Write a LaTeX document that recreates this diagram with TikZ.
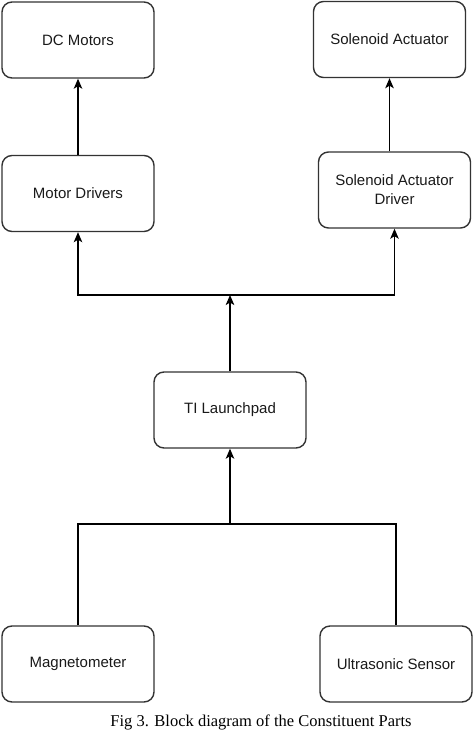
\documentclass[tikz,border=0pt]{standalone}
\usepackage{fontspec}
\setmainfont{Liberation Serif}
\newfontfamily\boxfont{Liberation Sans}
\usetikzlibrary{arrows.meta}
\begin{document}
\begin{tikzpicture}[x=1pt,y=-1pt,
  block/.style={draw=black!80,line width=1.4pt,rounded corners=10pt,minimum width=152pt,minimum height=76pt,align=center,font=\boxfont\fontsize{15}{19}\selectfont,text=black!90},
  link/.style={line width=1.3pt,-{Stealth[length=10pt,width=8.5pt,inset=2.5pt]}}]
  \useasboundingbox (0,0) rectangle (474,730);
  \node[block] (dc) at (78,40) {DC Motors};
  \node[block] (md) at (78,193.5) {Motor Drivers};
  \node[block] (sa) at (389.5,39.5) {Solenoid Actuator};
  \node[block] (sad) at (394.5,190) {Solenoid Actuator\\Driver};
  \node[block] (ti) at (230,410) {TI Launchpad};
  \node[block] (mag) at (78,664) {Magnetometer};
  \node[block] (us) at (396,664) {Ultrasonic Sensor};
  \coordinate (split) at (230,295);
  \coordinate (join) at (230,524);
  \draw[link] (md) -- (dc);
  \draw[link] (sad.north -| sa.south) -- (sa.south);
  \draw[link] (ti) -- (split);
  \draw[link] (split) -| (md);
  \draw[link] (split) -| (sad);
  \draw[line width=1.3pt] (mag) |- (join) -| (us);
  \draw[link] (join) -- (ti);
  \node[anchor=base,font=\fontsize{16.5}{19}\selectfont] (caption) at (261,726) {Fig 3. Block diagram of the Constituent Parts};
\end{tikzpicture}
\end{document}
